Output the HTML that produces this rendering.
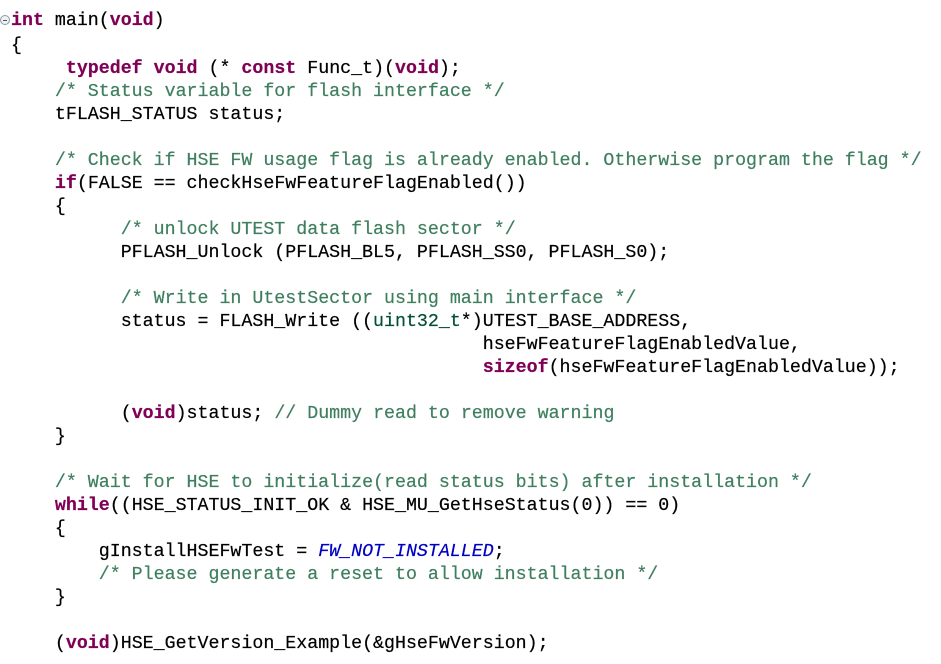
<!DOCTYPE html>
<html><head><meta charset="utf-8"><style>
html,body{margin:0;padding:0;background:#fff;width:941px;height:664px;overflow:hidden}
.l{position:absolute;left:11px;font-family:"Liberation Mono","DejaVu Sans Mono",monospace;font-size:18.3px;line-height:23px;white-space:pre;color:#000;-webkit-text-stroke:0.2px currentColor}
.k{color:#7f0055;font-weight:bold}
.c{color:#3f7f5f}
.t{color:#005032}
.m{color:#0000c0;font-style:italic}
.fold{position:absolute;left:0;top:15px;width:8px;height:8px;border:1px solid #8a9aa8;border-radius:50%;background:#eef2f6}
.fold:after{content:"";position:absolute;left:2px;top:3.5px;width:4px;height:1px;background:#556}
</style></head><body>
<div class="fold"></div>
<div class="l" style="top:10px"><span class="k">int</span> main(<span class="k">void</span>)</div>
<div class="l" style="top:35px">{</div>
<div class="l" style="top:58px">     <span class="k">typedef</span> <span class="k">void</span> (* <span class="k">const</span> Func_t)(<span class="k">void</span>);</div>
<div class="l" style="top:81px">    <span class="c">/* Status variable for flash interface */</span></div>
<div class="l" style="top:104px">    tFLASH_STATUS status;</div>
<div class="l" style="top:150px">    <span class="c">/* Check if HSE FW usage flag is already enabled. Otherwise program the flag */</span></div>
<div class="l" style="top:173px">    <span class="k">if</span>(FALSE == checkHseFwFeatureFlagEnabled())</div>
<div class="l" style="top:196px">    {</div>
<div class="l" style="top:219px">          <span class="c">/* unlock UTEST data flash sector */</span></div>
<div class="l" style="top:242px">          PFLASH_Unlock (PFLASH_BL5, PFLASH_SS0, PFLASH_S0);</div>
<div class="l" style="top:288px">          <span class="c">/* Write in UtestSector using main interface */</span></div>
<div class="l" style="top:311px">          status = FLASH_Write ((<span class="t">uint32_t</span>*)UTEST_BASE_ADDRESS,</div>
<div class="l" style="top:334px">                                           hseFwFeatureFlagEnabledValue,</div>
<div class="l" style="top:357px">                                           <span class="k">sizeof</span>(hseFwFeatureFlagEnabledValue));</div>
<div class="l" style="top:403px">          (<span class="k">void</span>)status; <span class="c">// Dummy read to remove warning</span></div>
<div class="l" style="top:426px">    }</div>
<div class="l" style="top:472px">    <span class="c">/* Wait for HSE to initialize(read status bits) after installation */</span></div>
<div class="l" style="top:495px">    <span class="k">while</span>((HSE_STATUS_INIT_OK &amp; HSE_MU_GetHseStatus(0)) == 0)</div>
<div class="l" style="top:518px">    {</div>
<div class="l" style="top:541px">        gInstallHSEFwTest = <span class="m">FW_NOT_INSTALLED</span>;</div>
<div class="l" style="top:564px">        <span class="c">/* Please generate a reset to allow installation */</span></div>
<div class="l" style="top:587px">    }</div>
<div class="l" style="top:633px">    (<span class="k">void</span>)HSE_GetVersion_Example(&amp;gHseFwVersion);</div>
</body></html>
